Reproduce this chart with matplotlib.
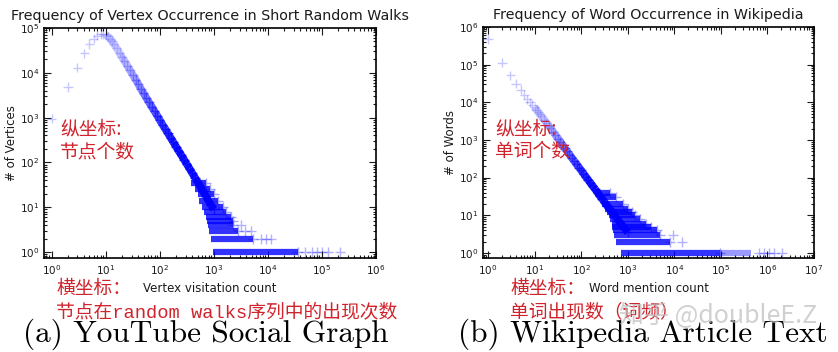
import numpy as np
import matplotlib
matplotlib.use("Agg")
import matplotlib.pyplot as plt
from matplotlib.collections import LineCollection

W, H = 838, 352

# (a) YouTube: vertex visitation count -> # of vertices
yt_count = [1, 2, 3, 4, 5, 6, 7, 8, 9, 10, 11, 12, 13, 14, 16, 18, 20, 22, 25, 28,
            32, 36, 40, 45, 50, 56, 63, 71, 80, 90, 100, 112, 126, 141, 158, 178,
            200, 224, 251, 282, 316, 355, 398, 447, 501, 562, 631, 708, 794, 891, 1000]
yt_freq = [950, 4800, 13000, 27000, 44000, 58000, 67000, 73500, 74000, 70000,
           65000, 58000, 51000, 45000, 35000, 28000, 22000, 18500, 14500, 11500,
           8800, 7000, 5600, 4300, 3500, 2800, 2200, 1750, 1380, 1100, 880, 700,
           560, 450, 360, 285, 225, 180, 145, 115, 92, 73, 58, 46, 37, 29, 23, 18,
           14, 11, 9]
# low-frequency levels: x extent of the dense cloud at each frequency
yt_lvl = [1, 2, 3, 4, 5, 6, 8, 10, 14, 20, 25, 34]
yt_lo = [950, 890, 820, 780, 740, 720, 650, 600, 530, 500, 450, 380]
yt_hi = [36000, 5200, 2800, 2300, 2300, 2100, 1700, 1500, 1170, 1000, 850, 720]
yt_out_x = [48000, 65000, 80000, 100000, 130000, 217000, 7600, 9400, 11600, 3700, 4900, 3200]
yt_out_y = [1, 1, 1, 1, 1, 1, 2, 2, 2, 3, 3, 4]

# (b) Wikipedia: word mention count -> # of words
wk_count = yt_count
wk_freq = [480000, 112000, 52000, 31000, 21600, 16000, 12000, 10000, 8500, 7400,
           6300, 5500, 4800, 4200, 3400, 2850, 2400, 2050, 1650, 1350, 1080, 880,
           730, 600, 500, 410, 335, 275, 225, 185, 155, 128, 105, 87, 72, 59, 49,
           40, 33, 27, 22.5, 18.5, 15.3, 12.6, 10.5, 8.7, 7.2, 6.0, 5.0, 4.2, 3.5]
wk_lvl = [1, 2, 3, 4, 5, 6, 8, 10, 12, 15, 20, 30, 40]
wk_lo = [730, 570, 500, 480, 470, 450, 420, 390, 360, 320, 280, 230, 200]
wk_hi = [98000, 8100, 5000, 4200, 3200, 2500, 1800, 1450, 1250, 1000, 800, 550, 420]
wk_tail = [98000, 435000]   # thinner part of the count==1 band
wk_out_x = [660000, 840000, 1070000, 1380000, 2100000, 14600, 9500]
wk_out_y = [1, 1, 1, 1, 1, 2, 3]

RED = "#d0232b"
BLUE = (0, 0, 1)
INK = "#1a1a1a"


def draw(ax, cnt, frq, lvl, lo, hi, ox, oy, px_per_dec):
    cnt = np.asarray(cnt, float); frq = np.asarray(frq, float)
    # integer counts pile up: about cnt*ln10/px_per_dec*7 markers per marker width
    n = cnt * np.log(10) / px_per_dec * 7
    alpha = np.clip(1 - 0.95 ** n, 0.22, 0.95)
    segs, sa = [], []
    for i in range(len(cnt) - 1):
        if cnt[i] >= 10:
            segs.append([(cnt[i], frq[i]), (cnt[i + 1], frq[i + 1])])
            sa.append(alpha[i])
    ax.add_collection(LineCollection(segs, colors=[BLUE + (a,) for a in sa],
                                     linewidths=5.5, capstyle="butt"))
    ax.scatter(cnt, frq, marker="+", s=45, linewidths=1,
               c=[BLUE + (a * 0.7,) if c >= 10 else BLUE + (a,)
                  for a, c in zip(alpha, cnt)])
    ax.hlines(lvl, lo, hi, colors="blue", linewidths=4.5, alpha=0.8)
    ax.scatter(hi, lvl, marker="+", s=45, linewidths=1, color=BLUE + (0.35,))
    ax.scatter(ox, oy, marker="+", s=45, linewidths=1, color=BLUE + (0.3,))


def style(ax, xlim, ylim, title, xlabel, ylabel):
    ax.set_xscale("log"); ax.set_yscale("log")
    ax.set_xlim(*xlim); ax.set_ylim(*ylim)
    ax.tick_params(which="both", direction="in", top=True, right=True,
                   labelsize=7.5, colors=INK, width=0.8)
    ax.tick_params(which="major", length=5)
    ax.tick_params(which="minor", length=2.5)
    for s in ax.spines.values():
        s.set_linewidth(1.2)
    ax.set_title(title, fontsize=10.3, pad=6, color=INK)
    ax.set_xlabel(xlabel, fontsize=8.5, labelpad=4, color=INK)
    ax.set_ylabel(ylabel, fontsize=8.5, labelpad=1, color=INK)


fig = plt.figure(figsize=(W / 100, H / 100), dpi=100)
ax1 = fig.add_axes([44 / W, (H - 258) / H, 332 / W, 230 / H])
ax2 = fig.add_axes([483 / W, (H - 258) / H, 331 / W, 231 / H])

draw(ax1, yt_count, yt_freq, yt_lvl, yt_lo, yt_hi, yt_out_x, yt_out_y, 53.7)
draw(ax2, wk_count, wk_freq, wk_lvl, wk_lo, wk_hi, wk_out_x, wk_out_y, 46.3)
ax2.hlines(1, *wk_tail, colors="blue", linewidths=4.5, alpha=0.4)

style(ax1, (0.72, 1e6), (0.74, 1e5), "Frequency of Vertex Occurrence in Short Random Walks",
      "Vertex visitation count", "# of Vertices")
style(ax2, (0.78, 1e7), (0.73, 1e6), "Frequency of Word Occurrence in Wikipedia",
      "Word mention count", "# of Words")


def ftext(x, y, s, **kw):
    fig.text(x / W, 1 - y / H, s, va="center", **kw)


cjk = ["Noto Sans CJK SC", "DejaVu Sans"]
mono = ["Liberation Mono", "Noto Sans CJK SC"]
ftext(60, 129, "纵坐标:", color=RED, fontsize=13.5, family=cjk)
ftext(60, 152, "节点个数", color=RED, fontsize=13.5, family=cjk)
ftext(56, 288, "横坐标：", color=RED, fontsize=13.5, family=cjk)
ftext(56, 312, "节点在random walks序列中的出现次数", color=RED, fontsize=13.5, family=mono)
ftext(495, 129, "纵坐标:", color=RED, fontsize=13.5, family=cjk)
ftext(495, 151, "单词个数", color=RED, fontsize=13.5, family=cjk)
ftext(510, 288, "横坐标：", color=RED, fontsize=13.5, family=cjk)
ftext(510, 312, "单词出现数（词频）", color=RED, fontsize=13.5, family=cjk)

ftext(206, 334, "(a) YouTube Social Graph", ha="center", fontsize=22.5, family="cmr10")
ftext(643, 334, "(b) Wikipedia Article Text", ha="center", fontsize=22.5, family="cmr10")
ftext(619, 316, "知乎 @doubleE.Z", color="#bdbdbd", alpha=0.7, fontsize=18, family=cjk)

fig.savefig("out.png", dpi=100)
